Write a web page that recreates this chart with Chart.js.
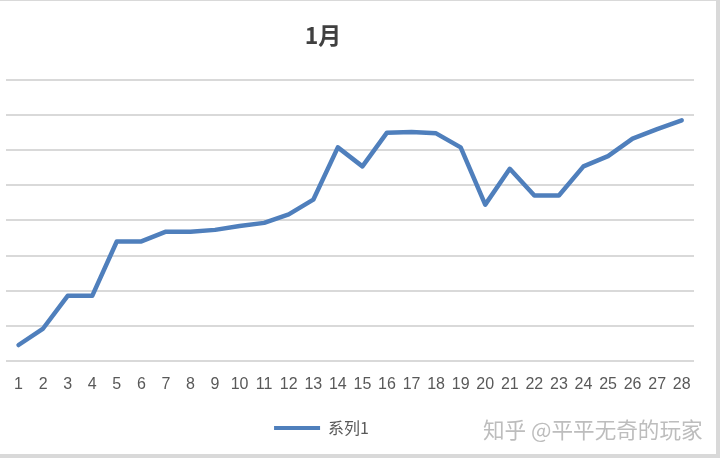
<!DOCTYPE html>
<html>
<head>
<meta charset="utf-8">
<script src="https://cdn.jsdelivr.net/npm/chart.js@4/dist/chart.umd.min.js"></script>
<style>
  html, body { margin: 0; padding: 0; background: #d9d9d9; width: 720px; height: 458px; overflow: hidden; }
  #box { position: absolute; left: 0; top: 1px; width: 716px; height: 453px; background: #ffffff; }
  #wrap { position: absolute; left: 0; top: 0; width: 716px; height: 453px; }
  #wm { position: absolute; left: 483px; top: 412px; font-family: "Noto Sans CJK SC", sans-serif; font-size: 21.6px; color: #bdbdbd; white-space: nowrap; }
</style>
</head>
<body>
<div id="box">
  <div id="wrap"><canvas id="c" width="716" height="453"></canvas></div>
  <div id="wm">知乎 @平平无奇的玩家</div>
</div>
<script>
const titleText = "1月";
const seriesName = "系列1";
const categories = ["1","2","3","4","5","6","7","8","9","10","11","12","13","14","15","16","17","18","19","20","21","22","23","24","25","26","27","28"];
const values = [0.45, 0.92, 1.85, 1.85, 3.4, 3.4, 3.68, 3.68, 3.73, 3.84, 3.93, 4.17, 4.59, 6.08, 5.54, 6.5, 6.52, 6.48, 6.08, 4.45, 5.47, 4.71, 4.71, 5.54, 5.83, 6.33, 6.6, 6.85];
const lineColor = "#4f7fbc";

const titlePlugin = {
  id: 'customTitle',
  afterLayout(chart) {
    const lg = chart.legend;
    if (lg) {
      lg.left -= 28; lg.right -= 28;
      lg.top -= 2; lg.bottom -= 2;
    }
  },
  afterDraw(chart) {
    const ctx = chart.ctx;
    ctx.save();
    ctx.font = 'bold 23px "Noto Sans CJK SC", sans-serif';
    ctx.fillStyle = '#404040';
    ctx.textAlign = 'center';
    ctx.textBaseline = 'middle';
    ctx.fillText(titleText, 323, 34);
    ctx.restore();
  }
};

new Chart(document.getElementById('c'), {
  type: 'line',
  data: {
    labels: categories,
    datasets: [{
      label: seriesName,
      data: values,
      borderColor: lineColor,
      backgroundColor: lineColor,
      borderWidth: 4.5,
      pointRadius: 0,
      tension: 0,
      borderJoinStyle: 'round',
      borderCapStyle: 'round'
    }]
  },
  options: {
    responsive: false,
    animation: false,
    layout: { padding: { left: 5, right: 22, top: 79, bottom: 6 } },
    plugins: {
      title: { display: false },
      tooltip: { enabled: false },
      legend: {
        display: true,
        position: 'bottom',
        labels: {
          font: { family: '"Noto Sans CJK SC", sans-serif', size: 16 },
          color: '#595959',
          boxWidth: 46,
          boxHeight: 4,
          padding: 14,
          generateLabels(chart) {
            return [{
              text: seriesName,
              fillStyle: lineColor,
              strokeStyle: lineColor,
              lineWidth: 0,
              fontColor: '#595959',
              datasetIndex: 0
            }];
          }
        }
      }
    },
    scales: {
      x: {
        offset: true,
        grid: { display: false, drawTicks: false },
        border: { display: false },
        ticks: {
          color: '#595959',
          font: { family: '"Liberation Sans", sans-serif', size: 16 },
          maxRotation: 0,
          autoSkip: false,
          padding: 14
        }
      },
      y: {
        min: 0,
        max: 8,
        grid: { color: '#d9d9d9', lineWidth: 2, drawTicks: false },
        border: { display: false },
        ticks: { display: false, stepSize: 1 }
      }
    }
  },
  plugins: [titlePlugin]
});
</script>
</body>
</html>
